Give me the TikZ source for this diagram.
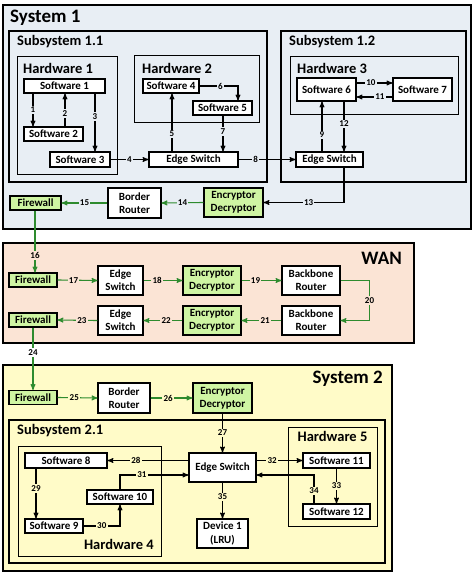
\documentclass[tikz,border=0pt]{standalone}
\usepackage{fontspec}
\setmainfont{Carlito}
\usepackage{tikz}
\usetikzlibrary{arrows,calc,positioning}
\definecolor{sysblaa}{HTML}{E8EEF4}
\definecolor{wanfarve}{HTML}{FBE4D5}
\definecolor{sysgul}{HTML}{FFFBC8}
\definecolor{gronfyld}{HTML}{CFF5A3}
\definecolor{gronlinje}{HTML}{2E8B2E}
\tikzset{
    >=stealth',
    boks/.style={
           rectangle,
           draw=black, fill=white, line width=1.1pt,
           inner sep=0pt,
           align=center,
           font=\fontsize{11}{13.3}\selectfont\bfseries},
    gboks/.style={
           boks,
           fill=gronfyld},
    maal/.style 2 args={
           minimum width=#1, minimum height=#2},
    pil/.style={
           ->,
           line width=1.1pt},
    gpil/.style={
           pil,
           draw=gronlinje},
    tal/.style={
           fill=#1,
           inner sep=1.3pt,
           font=\fontsize{9}{10}\selectfont\bfseries},
    tal/.default=sysblaa,
    titel/.style={
           inner sep=0pt,
           font=\fontsize{19}{22}\selectfont\bfseries},
    undertitel/.style={
           inner sep=0pt,
           font=\fontsize{14.5}{16}\selectfont\bfseries}
}
\begin{document}
\begin{tikzpicture}[x=1pt, y=-1pt]
          \useasboundingbox (0,0) rectangle (474,572);
          % rammer
          \draw[fill=sysblaa, line width=2.2pt] (3,5) rectangle (471,229);
          \draw[fill=sysblaa, line width=1.8pt] (9,31) rectangle (267,182);
          \draw[line width=1pt] (17,57) rectangle (117,174);
          \draw[line width=1pt] (134,56) rectangle (259,123);
          \draw[fill=sysblaa, line width=1.8pt] (281,31) rectangle (466,182);
          \draw[line width=1pt] (290,57) rectangle (458,115);
          \draw[fill=wanfarve, line width=2.2pt] (3,243) rectangle (414,343);
          \draw[fill=sysgul, line width=2.2pt] (3,365) rectangle (392,571);
          \draw[line width=1.8pt] (9,420) rectangle (385,563);
          \draw[line width=1pt] (18,446) rectangle (161,556);
          \draw[line width=1pt] (288,427) rectangle (377,526);
          \node[titel, anchor=west] (s1navn) at (10,18) {System 1};
          \node[undertitel, anchor=west] (s11navn) at (17,42) {Subsystem 1.1};
          \node[undertitel, anchor=west] (s12navn) at (289,42) {Subsystem 1.2};
          \node[undertitel, anchor=west] (hw1navn) at (23,68) {Hardware 1};
          \node[undertitel, anchor=west] (hw2navn) at (142,68) {Hardware 2};
          \node[undertitel, anchor=west] (hw3navn) at (297,68) {Hardware 3};
          \node[titel, anchor=east] (wannavn) at (402,258) {WAN};
          \node[titel, anchor=east] (s2navn) at (383,379) {System 2};
          \node[undertitel, anchor=west] (s21navn) at (17,431) {Subsystem 2.1};
          \node[undertitel, anchor=east] (hw4navn) at (154,544) {Hardware 4};
          \node[undertitel] (hw5navn) at (332.5,436) {Hardware 5};
          % System 1
          \node[boks, maal={81}{14}] (sw1) at (64.5,86) {Software 1};
          \node[boks, maal={59}{14}] (sw2) at (53.5,134) {Software 2};
          \node[boks, maal={60}{15}] (sw3) at (80,159.5) {Software 3};
          \node[boks, maal={56}{14}] (sw4) at (171,86) {Software 4};
          \node[boks, maal={59}{14}] (sw5) at (222.5,108) {Software 5};
          \node[boks, maal={89}{15}] (es1) at (193.5,159.5) {Edge Switch};
          \node[boks, maal={59}{23}] (sw6) at (326.5,89.5) {Software 6};
          \node[boks, maal={59}{23}] (sw7) at (422.5,89.5) {Software 7};
          \node[boks, maal={67}{15}] (es2) at (329.5,159.5) {Edge Switch};
          \node[gboks, maal={51}{14}] (fw1) at (35.5,203) {Firewall};
          \node[boks, maal={53}{30}] (br1) at (134.5,203) {Border\\Router};
          \node[gboks, maal={59}{29}] (ed1) at (233.5,202.5) {Encryptor\\Decryptor};
          % WAN
          \node[gboks, maal={48}{14}] (wfw1) at (33,280) {Firewall};
          \node[boks, maal={45}{29}] (wes1) at (120.5,280.5) {Edge\\Switch};
          \node[gboks, maal={58}{29}] (wed1) at (212,280.5) {Encryptor\\Decryptor};
          \node[boks, maal={58}{29}] (wbb1) at (311,280.5) {Backbone\\Router};
          \node[gboks, maal={48}{14}] (wfw2) at (33,320) {Firewall};
          \node[boks, maal={45}{29}] (wes2) at (120.5,320.5) {Edge\\Switch};
          \node[gboks, maal={58}{29}] (wed2) at (212,320.5) {Encryptor\\Decryptor};
          \node[boks, maal={58}{29}] (wbb2) at (311,320.5) {Backbone\\Router};
          % System 2
          \node[gboks, maal={48}{14}] (sfw) at (33,397.5) {Firewall};
          \node[boks, maal={52}{30}] (sbr) at (124,398) {Border\\Router};
          \node[gboks, maal={59}{30}] (sed) at (222.5,398) {Encryptor\\Decryptor};
          \node[boks, maal={67}{29}] (es3) at (222.5,467.5) {Edge Switch};
          \node[boks, maal={82}{15}] (sw8) at (66,460.5) {Software 8};
          \node[boks, maal={58}{14}] (sw9) at (54,526) {Software 9};
          \node[boks, maal={66}{14}] (sw10) at (120,497) {Software 10};
          \node[boks, maal={51}{29}] (dev1) at (222.5,533.5) {Device 1\\(LRU)};
          \node[boks, maal={67}{15}] (sw11) at (336.5,460.5) {Software 11};
          \node[boks, maal={67}{15}] (sw12) at (336.5,511.5) {Software 12};
          % forbindelser System 1
          \draw[pil] (sw1.south -| 33,0) -- node[tal]{1} (sw2.north -| 33,0);
          \draw[pil] (sw2.north -| 65,0) -- node[tal, pos=0.4]{2} (sw1.south -| 65,0);
          \draw[pil] (sw1.south -| 95,0) -- node[tal, pos=0.4]{3} (sw3.north -| 95,0);
          \draw[pil] (sw3.east) -- node[tal]{4} (es1.west);
          \draw[pil] (es1.north -| 172,0) -- node[tal, pos=0.3]{5} (sw4.south -| 172,0);
          \draw[pil] (sw4.east) -| node[tal, pos=0.27]{6} (sw5.north -| 238,0);
          \draw[pil] (sw5.south -| 223,0) -- node[tal, pos=0.45]{7} (es1.north -| 223,0);
          \draw[pil] (es1.east) -- node[tal, pos=0.3]{8} (es2.west);
          \draw[pil] (es2.north -| 322,0) -- node[tal, pos=0.33]{9} (sw6.south -| 322,0);
          \draw[pil] (sw6.east |- 0,83) -- node[tal, pos=0.4]{10} (sw7.west |- 0,83);
          \draw[pil] (sw7.west |- 0,97) -- node[tal, pos=0.35]{11} (sw6.east |- 0,97);
          \draw[pil] (sw6.south -| 344,0) -- node[tal, pos=0.45]{12} (es2.north -| 344,0);
          \draw[pil] (es2.south -| 344,0) |- node[tal, pos=0.72]{13} (ed1.east);
          \draw[gpil] (ed1.west) -- node[tal]{14} (br1.east);
          \draw[gpil] (br1.west) -- node[tal]{15} (fw1.east);
          \draw[gpil] (fw1.south -| 35,0) -- node[tal=wanfarve, pos=0.72]{16} (wfw1.north -| 35,0);
          % forbindelser WAN
          \draw[gpil] (wfw1.east) -- node[tal=wanfarve, pos=0.4]{17} (wes1.west);
          \draw[gpil] (wes1.east) -- node[tal=wanfarve, pos=0.35]{18} (wed1.west);
          \draw[gpil] (wed1.east) -- node[tal=wanfarve, pos=0.35]{19} (wbb1.west);
          \draw[gpil] (wbb1.east) -| node[tal=wanfarve, pos=0.75]{20} ([xshift=29pt]wbb2.east) -- (wbb2.east);
          \draw[gpil] (wbb2.west) -- node[tal=wanfarve, pos=0.41]{21} (wed2.east);
          \draw[gpil] (wed2.west) -- node[tal=wanfarve, pos=0.42]{22} (wes2.east);
          \draw[gpil] (wes2.west) -- node[tal=wanfarve, pos=0.39]{23} (wfw2.east);
          \draw[gpil] (wfw2.south) -- node[tal=white, pos=0.4]{24} (sfw.north);
          % forbindelser System 2
          \draw[gpil] (sfw.east) -- node[tal=sysgul, pos=0.42]{25} (sbr.west);
          \draw[gpil] (sbr.east) -- node[tal=sysgul, pos=0.42]{26} (sed.west);
          \draw[pil] (sed.south) -- node[tal=sysgul]{27} (es3.north);
          \draw[pil] (es3.west |- sw8.east) -- node[tal=sysgul, pos=0.65]{28} (sw8.east);
          \draw[pil] (sw8.south -| 36,0) -- node[tal=sysgul, pos=0.4]{29} (sw9.north -| 36,0);
          \draw[pil] (sw9.east) -| node[tal=sysgul, pos=0.25]{30} (sw10.south);
          \draw[pil] (sw10.north) |- node[tal=sysgul, pos=0.66]{31} (es3.west |- 0,475);
          \draw[pil] (es3.east |- sw11.west) -- node[tal=sysgul, pos=0.34]{32} (sw11.west);
          \draw[pil] (sw11.south) -- node[tal=sysgul]{33} (sw12.north);
          \draw[pil] (sw12.north -| 314,0) |- node[tal=sysgul, pos=0.22]{34} (es3.east |- 0,475);
          \draw[pil] (es3.south) -- node[tal=sysgul, pos=0.4]{35} (dev1.north);
\end{tikzpicture}
\end{document}
